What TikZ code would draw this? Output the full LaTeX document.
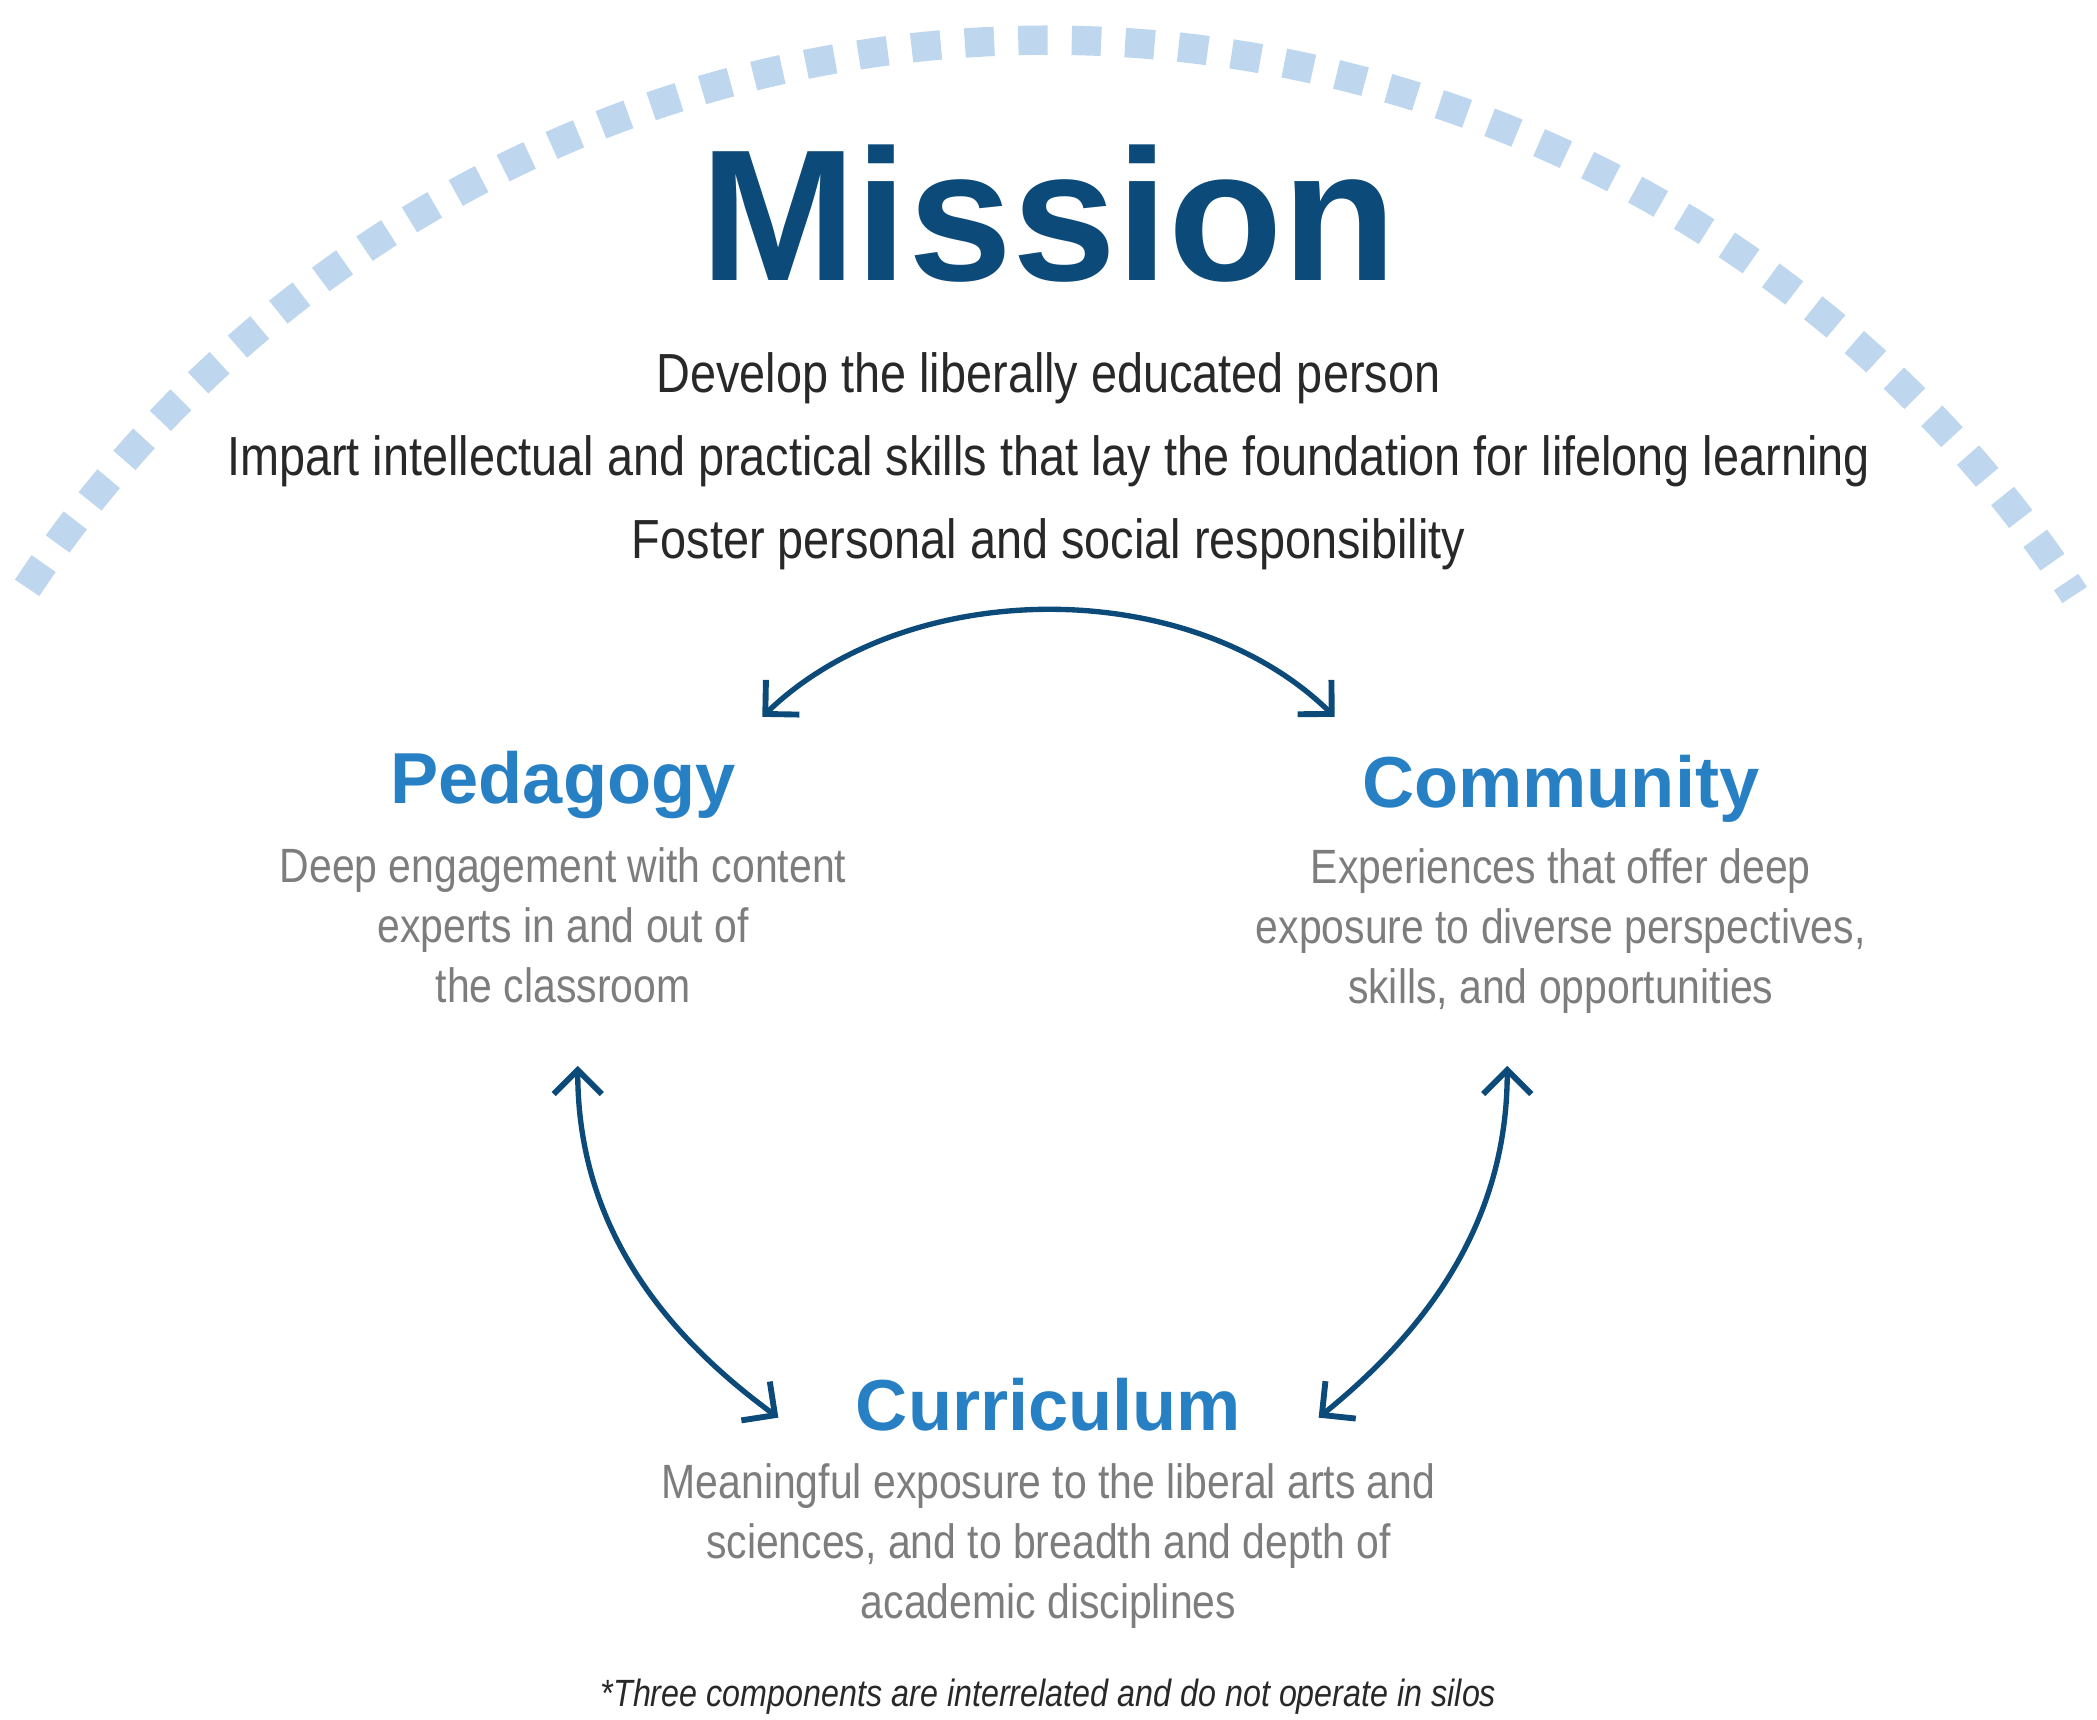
\documentclass[tikz,border=0pt]{standalone}
\usepackage{fontspec}
\setmainfont{Liberation Sans}
\newfontfamily\narrow[FakeStretch=0.85]{Liberation Sans}
\usetikzlibrary{arrows.meta}
\definecolor{dk}{RGB}{12,74,122}
\definecolor{mid}{RGB}{40,128,196}
\definecolor{lt}{RGB}{190,215,238}
\definecolor{gr}{RGB}{125,125,125}
\definecolor{tx}{RGB}{40,40,40}
\begin{document}
\begin{tikzpicture}[x=0.5pt,y=-0.5pt,
  head/.style={font=\bfseries\fontsize{27}{30}\selectfont, text=mid},
  body/.style={font=\narrow\fontsize{18}{22.5}\selectfont, text=gr, align=center},
  mline/.style={font=\narrow\fontsize{20.6}{22}\selectfont, text=tx},
  conn/.style={draw=dk, line width=2pt, {Straight Barb[length=9pt,width=18pt,line width=2.2pt]}-{Straight Barb[length=9pt,width=18pt,line width=2.2pt]}}]
\useasboundingbox (0,0) rectangle (1568,1286);
\draw[lt, line width=11pt, dash pattern=on 11pt off 9pt] (784,947) ++(-146.4:917) arc[start angle=-146.4, end angle=-33.2, radius=917];
\node[font=\bfseries\fontsize{70}{72}\selectfont, text=dk] (mission) at (784,160) {Mission};
\node[mline] (m1) at (784,283) {Develop the liberally educated person};
\node[mline] (m2) at (784,345) {Impart intellectual and practical skills that lay the foundation for lifelong learning};
\node[mline] (m3) at (784,407) {Foster personal and social responsibility};
\node[head] (ped) at (421,587) {Pedagogy};
\node[body] (pedt) at (421,692) {Deep engagement with content\\experts in and out of\\the classroom};
\node[head] (com) at (1167,590) {Community};
\node[body] (comt) at (1167,696) {Experiences that offer deep\\exposure to diverse perspectives,\\skills, and opportunities};
\node[head] (cur) at (784,1050) {Curriculum};
\node[body] (curt) at (784,1156) {Meaningful exposure to the liberal arts and\\sciences, and to breadth and depth of\\academic disciplines};
\node[font=\narrow\itshape\fontsize{14.2}{16}\selectfont, text=tx] (note) at (784,1269) {*Three components are interrelated and do not operate in silos};
\coordinate (a1) at (570,536);
\coordinate (a2) at (998,536);
\coordinate (b1) at (432,797);
\coordinate (b2) at (582,1060);
\coordinate (c1) at (1127,797);
\coordinate (c2) at (986,1060);
\draw[conn] (a1) .. controls (680,430) and (890,430) .. (a2);
\draw[conn] (b1) .. controls (432,920) and (500,1000) .. (b2);
\draw[conn] (c1) .. controls (1127,920) and (1060,1000) .. (c2);
\end{tikzpicture}
\end{document}
